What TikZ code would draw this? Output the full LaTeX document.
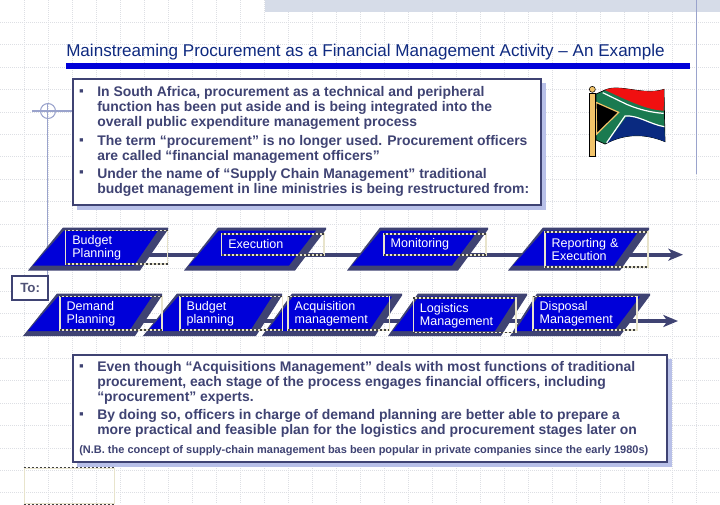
\documentclass[tikz,border=0pt]{standalone}
\usepackage{fontspec}
\setmainfont{Liberation Sans}
\usetikzlibrary{arrows.meta}
\definecolor{ink}{HTML}{3F4373}
\definecolor{titleink}{HTML}{0F2A80}
\definecolor{barblue}{HTML}{0000D8}
\definecolor{panelshade}{HTML}{B8C0E8}
\definecolor{gridc}{HTML}{DDDFE4}
\definecolor{bandc}{HTML}{D6DCE8}
\definecolor{railc}{HTML}{9AA3CC}
\definecolor{cream}{HTML}{E8E4CC}
\definecolor{flagred}{HTML}{F01010}
\definecolor{flaggreen}{HTML}{1A7A50}
\definecolor{flagblue}{HTML}{0A2A80}
\definecolor{flaggold}{HTML}{F2C46A}
\pgfdeclarelayer{back}
\pgfsetlayers{back,main}
\tikzset{
  panel/.style={draw=ink,line width=1.5pt,fill=white,inner sep=0pt},
  para text/.style={text=ink,font=\bfseries\fontsize{10.45}{11.25}\selectfont,anchor=north west,inner sep=0pt,align=left},
  bullet mark/.style={text=ink,font=\bfseries\fontsize{10}{11.25}\selectfont,anchor=center,inner sep=0pt},
  stage text/.style={text=white,font=\fontsize{9.4}{9.75}\selectfont,align=left,anchor=north west,outer sep=0pt,inner ysep=0pt,draw=cream,line width=.8pt},
  dots/.style={draw=black!75,line width=.9pt,dash pattern=on 1.5pt off 1.5pt},
  flow/.style={draw=ink,line width=3pt,-{Stealth[length=11pt,width=9pt,inset=3pt]}},
  flowplain/.style={draw=ink,line width=3pt},
}
\newcommand{\parashape}[6]{% bl tl tr br ytop ybot
  \fill[ink] (#1,#6) -- (#2,#5) -- (#3+2,#5) -- (#3+2,#5+2) -- (#4+3,#6) -- cycle;
  \fill[blue!85!black] (#1+5,#6-5) -- (#2+1,#5+3) -- (#3-8,#5+3) -- (#4-3,#6-5) -- cycle;
}
\newcommand{\stagebox}[6]{% name x1 x2 y1 y2 text
  \pgfmathsetlengthmacro{\stw}{(#3-#2)*0.75pt-10pt}
  \pgfmathsetlengthmacro{\sth}{(#5-#4)*0.75pt}
  \node[stage text,inner xsep=5pt,text width=\stw,minimum height=\sth] (#1) at (#2,#4) {#6};
  \draw[dots] (#1.north west) -- (#1.north east) (#1.south west) -- (#1.south east);
}
\begin{document}
\begin{tikzpicture}[x=0.75pt,y=-0.75pt]
\useasboundingbox (0,0) rectangle (720,504);
\begin{pgfonlayer}{back}
\fill[white] (0,0) rectangle (720,504);
% grid
\foreach \gx in {24,48,...,720} \draw[gridc,line width=.5pt,densely dotted] (\gx,0) -- (\gx,504);
\foreach \gy in {1,...,22} \draw[gridc,line width=.5pt,densely dotted] (0,22.4*\gy) -- (720,22.4*\gy);
% decoration
\fill[bandc] (265,0) rectangle (720,12);
\draw[railc,line width=.8pt] (696.7,0) -- (696.7,174);
\draw[railc,line width=.8pt] (32,111) -- (72,111);
\draw[railc,line width=.8pt] (47.5,104) -- (47.5,276);
\draw[railc,line width=.8pt] (48,111) circle (7.5);
\end{pgfonlayer}
% title
\node[anchor=base west,inner sep=0pt,text=titleink,font=\fontsize{12.8}{15}\selectfont] (title) at (66,56.5) {Mainstreaming Procurement as a Financial Management Activity – An Example};
\fill[barblue] (66,63) rectangle (690,69);
% upper panel
\fill[panelshade] (77,83) rectangle (545.5,209.5);
\node[panel,anchor=north west,minimum width=351pt,minimum height=94.5pt] (panelA) at (72,78) {};
\foreach \by in {92.3,141.3,174} \node[bullet mark] at (81.5,\by) {▪};
\node[para text] (ta1) at (97,86.3) {In South Africa, procurement as a technical and peripheral\\function has been put aside and is being integrated into the\\overall public expenditure management process};
\node[para text] (ta2) at (97,135.3) {The term “procurement” is no longer used. Procurement officers\\are called “financial management officers”};
\node[para text] (ta3) at (97,168) {Under the name of “Supply Chain Management” traditional\\budget management in line ministries is being restructured from:};
% flag
\begin{scope}[shift={(570,70)},x=0.25pt,y=-0.25pt]
  \fill[flaggreen,draw=black,line width=.5pt] (78,72) -- (105,60) .. controls (150,40) and (220,78) .. (282,58) -- (285,215) .. controls (225,190) and (165,190) .. (105,222) -- (78,210) -- cycle;
  \fill[flagred] (105,60) .. controls (150,40) and (220,78) .. (282,58) -- (281,122) .. controls (230,120) and (170,90) .. (105,60) -- cycle;
  \fill[flagblue] (170,140) .. controls (205,135) and (240,165) .. (283,172) -- (285,215) .. controls (225,190) and (165,190) .. (110,220) -- cycle;
  \draw[white,line width=.9pt] (98,68) -- (170,103) .. controls (205,118) and (245,128) .. (281,130);
  \draw[white,line width=.9pt] (110,218) -- (165,138) .. controls (205,135) and (240,163) .. (283,170);
  \fill[black,draw=flaggold,line width=.9pt] (78,97) -- (146,127) -- (80,192) -- cycle;
  \fill[flaggold,draw=black,line width=.4pt] (57,70) rectangle (77,258);
  \fill[flaggold,draw=black,line width=.4pt] (67,58) circle (9);
\end{scope}
% top stages
\parashape{28}{63}{166}{137}{227.5}{270.5}
\parashape{184}{218}{324}{292}{227.5}{270.5}
\parashape{347}{380}{486}{455}{227.5}{270.5}
\parashape{508}{543}{647}{617}{227.5}{270.5}
\stagebox{st1}{65.7}{167.7}{230.7}{264}{Budget\\Planning}
\stagebox{st2}{221.7}{324}{234}{255}{Execution}
\stagebox{st3}{384}{486}{234}{255}{Monitoring}
\stagebox{st4}{545}{648}{232}{267}{Reporting \&\\Execution}
% To
\node[draw=ink,line width=1.5pt,fill=white,text=ink!75!gray,font=\bfseries\fontsize{10}{11}\selectfont,minimum width=27pt,minimum height=18pt,inner sep=0pt] (tolabel) at (30.2,287.8) {To:};
% bottom stages
\parashape{23}{57}{160}{132}{293.5}{336}
\parashape{143}{177}{280}{253}{293.5}{336}
\parashape{262}{292}{400}{372}{293.5}{336}
\parashape{388}{418}{525}{498}{293.5}{336}
\parashape{510}{537}{648}{617}{293.5}{336}
\stagebox{sb1}{60}{162}{296.7}{330}{Demand\\Planning}
\stagebox{sb2}{180}{282.7}{296.7}{330}{Budget\\planning}
\stagebox{sb3}{288}{389.3}{296.7}{330}{Acquisition\\management}
\stagebox{sb4}{413.3}{516}{298}{332.7}{Logistics\\Management}
\stagebox{sb5}{533}{637}{296.7}{330}{Disposal\\Management}
% connectors, behind the stages
\coordinate (axisT) at (0,254.7);
\coordinate (axisB) at (0,321);
\coordinate (endT) at (683,254.7);
\coordinate (endB) at (678,321);
\begin{pgfonlayer}{back}
\draw[flowplain] (st1.center |- axisT) -- (st2.center |- axisT);
\draw[flowplain] (st2.center |- axisT) -- (st3.center |- axisT);
\draw[flowplain] (st3.center |- axisT) -- (st4.center |- axisT);
\draw[flow] (st4.center |- axisT) -- (endT);
\draw[flowplain] (sb1.center |- axisB) -- (sb2.center |- axisB);
\draw[flowplain] (sb2.center |- axisB) -- (sb3.center |- axisB);
\draw[flowplain] (sb3.center |- axisB) -- (sb4.center |- axisB);
\draw[flowplain] (sb4.center |- axisB) -- (sb5.center |- axisB);
\draw[flow] (sb5.center |- axisB) -- (endB);
\end{pgfonlayer}
% lower panel
\fill[panelshade] (77,359) rectangle (671.5,467);
\node[panel,anchor=north west,minimum width=445.5pt,minimum height=80.5pt] (panelB) at (72,354) {};
\foreach \by in {367.3,415.3} \node[bullet mark] at (81.5,\by) {▪};
\node[para text] (tb1) at (97,361.3) {Even though “Acquisitions Management” deals with most functions of traditional\\procurement, each stage of the process engages financial officers, including\\“procurement” experts.};
\node[para text] (tb2) at (97,409.3) {By doing so, officers in charge of demand planning are better able to prepare a\\more practical and feasible plan for the logistics and procurement stages later on};
\node[anchor=west,inner sep=0pt,text=ink,font=\bfseries\fontsize{8.25}{9}\selectfont] (tb3) at (79,450.3) {(N.B. the concept of supply-chain management bas been popular in private companies since the early 1980s)};
% empty dotted box
\node[draw=cream,line width=.8pt,anchor=north west,minimum width=68pt,minimum height=26.5pt,inner sep=0pt] (blank) at (23.5,467.7) {};
\draw[dots] (blank.north west) -- (blank.north east) (blank.south west) -- (blank.south east);
\end{tikzpicture}
\end{document}
